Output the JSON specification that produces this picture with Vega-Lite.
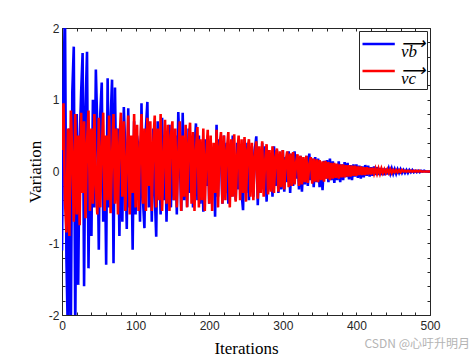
{
  "$schema": "https://vega.github.io/schema/vega-lite/v6.json",
  "autosize": {"type": "none"},
  "width": 368,
  "height": 287,
  "padding": {"left": 62, "top": 28, "right": 44, "bottom": 41},
  "background": "white",
  "config": {
    "view": {"stroke": null},
    "axis": {
      "domainColor": "#262626",
      "domainWidth": 1,
      "tickColor": "#262626",
      "grid": false,
      "labelFont": "Liberation Sans",
      "labelFontSize": 12,
      "labelColor": "#262626",
      "titleFont": "Liberation Serif",
      "titleFontSize": 17,
      "titleFontWeight": "normal",
      "titleColor": "#000000"
    }
  },
  "title": {
    "text": "CSDN @心吁升明月",
    "orient": "bottom",
    "anchor": "end",
    "font": "Noto Sans CJK SC",
    "fontSize": 12,
    "fontWeight": "normal",
    "color": "#b4b4b4",
    "offset": -17,
    "dx": 30
  },
  "data": {
    "values": [
      {"it":0,"vb":-1.10,"vc":0.30},{"it":2,"vb":1.15,"vc":0.95},{"it":4,"vb":2.30,"vc":-0.40},{"it":6,"vb":-1.20,"vc":-0.85},{"it":8,"vb":-2.30,"vc":0.60},
      {"it":10,"vb":0.60,"vc":-0.90},{"it":12,"vb":-2.25,"vc":0.85},{"it":14,"vb":1.10,"vc":0.20},{"it":16,"vb":1.74,"vc":-0.70},{"it":18,"vb":-2.20,"vc":0.80},
      {"it":20,"vb":0.80,"vc":-0.60},{"it":22,"vb":-1.58,"vc":0.50},{"it":24,"vb":0.40,"vc":-0.75},{"it":26,"vb":1.10,"vc":0.82},{"it":28,"vb":1.65,"vc":-0.30},
      {"it":30,"vb":-1.60,"vc":0.70},{"it":32,"vb":0.90,"vc":-0.65},{"it":34,"vb":1.67,"vc":0.40},{"it":36,"vb":-1.35,"vc":0.85},{"it":38,"vb":0.50,"vc":-0.55},
      {"it":40,"vb":-0.90,"vc":0.60},{"it":42,"vb":1.00,"vc":-0.45},{"it":44,"vb":-0.50,"vc":0.80},{"it":46,"vb":1.42,"vc":-0.20},{"it":48,"vb":0.60,"vc":-0.60},
      {"it":50,"vb":-1.09,"vc":0.75},{"it":52,"vb":0.80,"vc":-0.50},{"it":54,"vb":1.24,"vc":0.30},{"it":56,"vb":-0.70,"vc":0.82},{"it":58,"vb":0.40,"vc":-0.55},
      {"it":60,"vb":-1.30,"vc":0.50},{"it":62,"vb":1.30,"vc":-0.40},{"it":64,"vb":-0.50,"vc":0.78},{"it":66,"vb":0.70,"vc":-0.58},{"it":68,"vb":1.28,"vc":0.20},
      {"it":70,"vb":-1.28,"vc":0.80},{"it":72,"vb":1.17,"vc":-0.45},{"it":74,"vb":-0.40,"vc":0.60},{"it":76,"vb":0.60,"vc":-0.60},{"it":78,"vb":-0.90,"vc":0.40},
      {"it":80,"vb":0.50,"vc":0.82},{"it":82,"vb":-0.70,"vc":-0.35},{"it":84,"vb":0.90,"vc":0.70},{"it":86,"vb":0.30,"vc":-0.55},{"it":88,"vb":-0.80,"vc":0.10},
      {"it":90,"vb":0.88,"vc":0.78},{"it":92,"vb":-0.50,"vc":-0.60},{"it":94,"vb":0.40,"vc":0.50},{"it":96,"vb":-1.09,"vc":-0.30},{"it":98,"vb":0.70,"vc":0.80},
      {"it":100,"vb":-0.60,"vc":-0.50},{"it":102,"vb":0.50,"vc":0.65},{"it":104,"vb":0.30,"vc":-0.55},{"it":106,"vb":-0.70,"vc":0.30},{"it":108,"vb":0.95,"vc":0.80},
      {"it":110,"vb":-0.40,"vc":-0.45},{"it":112,"vb":-0.79,"vc":0.60},{"it":114,"vb":0.60,"vc":-0.55},{"it":116,"vb":0.97,"vc":0.75},{"it":118,"vb":-0.50,"vc":-0.20},
      {"it":120,"vb":0.40,"vc":0.70},{"it":122,"vb":-0.70,"vc":-0.55},{"it":124,"vb":0.60,"vc":0.40},{"it":126,"vb":-0.30,"vc":0.78},{"it":128,"vb":-0.91,"vc":-0.50},
      {"it":130,"vb":0.70,"vc":0.60},{"it":132,"vb":0.20,"vc":-0.40},{"it":134,"vb":-0.60,"vc":0.80},{"it":136,"vb":0.75,"vc":-0.55},{"it":138,"vb":-0.40,"vc":0.20},
      {"it":140,"vb":0.50,"vc":0.72},{"it":142,"vb":-0.70,"vc":-0.45},{"it":144,"vb":0.30,"vc":0.65},{"it":146,"vb":0.65,"vc":-0.55},{"it":148,"vb":-0.50,"vc":0.50},
      {"it":150,"vb":0.60,"vc":0.70},{"it":152,"vb":-0.40,"vc":-0.40},{"it":154,"vb":0.50,"vc":0.60},{"it":156,"vb":-0.60,"vc":-0.50},{"it":158,"vb":0.83,"vc":0.25},
      {"it":160,"vb":0.20,"vc":0.70},{"it":162,"vb":-0.55,"vc":-0.55},{"it":164,"vb":0.82,"vc":0.50},{"it":166,"vb":-0.40,"vc":-0.35},{"it":168,"vb":0.40,"vc":0.65},
      {"it":170,"vb":-0.49,"vc":-0.50},{"it":172,"vb":0.60,"vc":0.40},{"it":174,"vb":-0.30,"vc":0.68},{"it":176,"vb":0.45,"vc":-0.45},{"it":178,"vb":-0.50,"vc":0.55},
      {"it":180,"vb":0.30,"vc":-0.55},{"it":182,"vb":0.67,"vc":0.30},{"it":184,"vb":-0.40,"vc":0.62},{"it":186,"vb":0.50,"vc":-0.50},{"it":188,"vb":-0.45,"vc":0.45},
      {"it":190,"vb":0.35,"vc":-0.40},{"it":192,"vb":-0.56,"vc":0.60},{"it":194,"vb":0.45,"vc":-0.55},{"it":196,"vb":-0.20,"vc":0.20},{"it":198,"vb":0.50,"vc":0.58},
      {"it":200,"vb":-0.45,"vc":-0.45},{"it":202,"vb":0.40,"vc":0.50},{"it":204,"vb":-0.30,"vc":-0.55},{"it":206,"vb":0.30,"vc":0.40},{"it":208,"vb":-0.63,"vc":-0.30},
      {"it":210,"vb":0.65,"vc":0.58},{"it":212,"vb":-0.35,"vc":-0.50},{"it":214,"vb":0.45,"vc":0.35},{"it":216,"vb":0.20,"vc":0.55},{"it":218,"vb":-0.45,"vc":-0.45},
      {"it":220,"vb":0.50,"vc":0.50},{"it":222,"vb":-0.30,"vc":-0.40},{"it":224,"vb":0.40,"vc":0.30},{"it":226,"vb":-0.45,"vc":0.55},{"it":228,"vb":0.35,"vc":-0.50},
      {"it":230,"vb":-0.35,"vc":0.45},{"it":232,"vb":0.50,"vc":-0.35},{"it":234,"vb":0.10,"vc":0.52},{"it":236,"vb":-0.40,"vc":-0.42},{"it":238,"vb":0.40,"vc":0.20},
      {"it":240,"vb":-0.25,"vc":0.50},{"it":242,"vb":0.35,"vc":-0.40},{"it":244,"vb":-0.30,"vc":0.45},{"it":246,"vb":-0.54,"vc":-0.30},{"it":248,"vb":0.45,"vc":0.48},
      {"it":250,"vb":-0.30,"vc":-0.42},{"it":252,"vb":0.40,"vc":0.30},{"it":254,"vb":-0.40,"vc":0.45},{"it":256,"vb":0.20,"vc":-0.35},{"it":258,"vb":0.35,"vc":0.40},
      {"it":260,"vb":-0.35,"vc":-0.40},{"it":262,"vb":0.30,"vc":0.20},{"it":264,"vb":0.49,"vc":0.42},{"it":266,"vb":-0.47,"vc":-0.38},{"it":268,"vb":0.20,"vc":0.35},
      {"it":270,"vb":-0.30,"vc":-0.30},{"it":272,"vb":0.40,"vc":0.42},{"it":274,"vb":-0.20,"vc":-0.35},{"it":276,"vb":0.35,"vc":0.15},{"it":278,"vb":-0.42,"vc":0.38},
      {"it":280,"vb":0.30,"vc":-0.32},{"it":282,"vb":-0.25,"vc":0.30},{"it":284,"vb":0.20,"vc":-0.28},{"it":286,"vb":-0.35,"vc":0.35},{"it":288,"vb":0.35,"vc":-0.30},
      {"it":290,"vb":-0.20,"vc":0.20},{"it":292,"vb":0.30,"vc":0.32},{"it":294,"vb":-0.30,"vc":-0.28},{"it":296,"vb":0.15,"vc":0.28},{"it":298,"vb":-0.25,"vc":-0.22},
      {"it":300,"vb":0.30,"vc":0.30},{"it":302,"vb":-0.28,"vc":-0.25},{"it":304,"vb":0.20,"vc":0.15},{"it":306,"vb":-0.15,"vc":0.28},{"it":308,"vb":0.28,"vc":-0.22},
      {"it":310,"vb":-0.30,"vc":0.25},{"it":312,"vb":0.25,"vc":-0.20},{"it":314,"vb":-0.20,"vc":0.27},{"it":316,"vb":0.28,"vc":-0.18},{"it":318,"vb":-0.10,"vc":0.12},
      {"it":320,"vb":0.20,"vc":0.24},{"it":322,"vb":-0.25,"vc":-0.20},{"it":324,"vb":0.22,"vc":0.22},{"it":326,"vb":-0.28,"vc":-0.18},{"it":328,"vb":0.15,"vc":0.20},
      {"it":330,"vb":-0.18,"vc":-0.15},{"it":332,"vb":0.22,"vc":0.22},{"it":334,"vb":-0.20,"vc":-0.16},{"it":336,"vb":0.25,"vc":0.10},{"it":338,"vb":-0.12,"vc":0.20},
      {"it":340,"vb":0.18,"vc":-0.17},{"it":342,"vb":-0.22,"vc":0.18},{"it":344,"vb":0.20,"vc":-0.14},{"it":346,"vb":-0.15,"vc":0.17},{"it":348,"vb":0.18,"vc":-0.15},
      {"it":350,"vb":-0.22,"vc":0.16},{"it":352,"vb":0.10,"vc":-0.12},{"it":354,"vb":-0.26,"vc":0.14},{"it":356,"vb":0.15,"vc":-0.14},{"it":358,"vb":-0.10,"vc":0.15},
      {"it":360,"vb":0.16,"vc":-0.10},{"it":362,"vb":-0.15,"vc":0.13},{"it":364,"vb":0.18,"vc":-0.12},{"it":366,"vb":-0.12,"vc":0.12},{"it":368,"vb":0.14,"vc":-0.10},
      {"it":370,"vb":-0.16,"vc":0.12},{"it":372,"vb":0.10,"vc":-0.09},{"it":374,"vb":-0.12,"vc":0.11},{"it":376,"vb":0.14,"vc":-0.10},{"it":378,"vb":-0.15,"vc":0.10},
      {"it":380,"vb":0.10,"vc":-0.08},{"it":382,"vb":-0.12,"vc":0.10},{"it":384,"vb":0.13,"vc":-0.08},{"it":386,"vb":-0.08,"vc":0.09},{"it":388,"vb":0.12,"vc":-0.07},
      {"it":390,"vb":-0.11,"vc":0.09},{"it":392,"vb":0.09,"vc":-0.07},{"it":394,"vb":-0.12,"vc":0.08},{"it":396,"vb":0.10,"vc":-0.06},{"it":398,"vb":-0.07,"vc":0.08},
      {"it":400,"vb":0.10,"vc":-0.06},{"it":402,"vb":-0.09,"vc":0.07},{"it":404,"vb":0.08,"vc":-0.05},{"it":406,"vb":-0.10,"vc":0.07},{"it":408,"vb":0.07,"vc":-0.05},
      {"it":410,"vb":-0.08,"vc":0.06},{"it":412,"vb":0.09,"vc":-0.05},{"it":414,"vb":-0.06,"vc":0.06},{"it":416,"vb":0.08,"vc":-0.04},{"it":418,"vb":-0.07,"vc":0.05},
      {"it":420,"vb":0.06,"vc":-0.04},{"it":422,"vb":-0.06,"vc":0.05},{"it":424,"vb":0.07,"vc":-0.03},{"it":426,"vb":-0.05,"vc":0.04},{"it":428,"vb":0.06,"vc":-0.03},
      {"it":430,"vb":-0.05,"vc":0.04},{"it":432,"vb":0.05,"vc":-0.03},{"it":434,"vb":-0.05,"vc":0.04},{"it":436,"vb":0.04,"vc":-0.02},{"it":438,"vb":-0.05,"vc":0.03},
      {"it":440,"vb":0.04,"vc":-0.02},{"it":442,"vb":-0.04,"vc":0.03},{"it":444,"vb":0.04,"vc":-0.02},{"it":446,"vb":-0.03,"vc":0.03},{"it":448,"vb":0.04,"vc":-0.02},
      {"it":450,"vb":-0.03,"vc":0.02},{"it":452,"vb":0.03,"vc":-0.01},{"it":454,"vb":-0.03,"vc":0.02},{"it":456,"vb":0.03,"vc":-0.01},{"it":458,"vb":-0.02,"vc":0.02},
      {"it":460,"vb":0.03,"vc":-0.01},{"it":462,"vb":-0.02,"vc":0.02},{"it":464,"vb":0.02,"vc":0.00},{"it":466,"vb":-0.02,"vc":0.01},{"it":468,"vb":0.02,"vc":0.00},
      {"it":470,"vb":-0.02,"vc":0.01},{"it":472,"vb":0.02,"vc":0.00},{"it":474,"vb":-0.01,"vc":0.01},{"it":476,"vb":0.02,"vc":0.00},{"it":478,"vb":-0.01,"vc":0.01},
      {"it":480,"vb":0.01,"vc":0.00},{"it":482,"vb":-0.01,"vc":0.01},{"it":484,"vb":0.01,"vc":0.00},{"it":486,"vb":-0.01,"vc":0.01},{"it":488,"vb":0.01,"vc":0.00},
      {"it":490,"vb":0.00,"vc":0.00},{"it":492,"vb":0.01,"vc":0.00},{"it":494,"vb":0.00,"vc":0.00},{"it":496,"vb":0.00,"vc":0.00},{"it":498,"vb":0.00,"vc":0.00},
      {"it":500,"vb":0.00,"vc":0.00}
    ]
  },
  "transform": [{"fold": ["vb", "vc"], "as": ["series", "value"]}],
  "layer": [
    {
      "mark": {"type": "line", "strokeWidth": 2.6, "clip": true},
      "encoding": {
        "x": {
          "field": "it", "type": "quantitative",
          "scale": {"domain": [0, 500], "nice": false},
          "axis": {
            "orient": "bottom",
            "title": "Iterations",
            "values": [0,20,40,60,80,100,120,140,160,180,200,220,240,260,280,300,320,340,360,380,400,420,440,460,480,500],
            "labelExpr": "datum.value % 100 == 0 ? datum.label : ''",
            "labelOverlap": false,
            "tickSize": -3,
            "labelPadding": 8,
            "labelFlush": false,
            "titlePadding": 9
          }
        },
        "y": {
          "field": "value", "type": "quantitative",
          "scale": {"domain": [-2, 2], "nice": false},
          "axis": {
            "orient": "left",
            "title": "Variation",
            "values": [-2,-1.8,-1.6,-1.4,-1.2,-1,-0.8,-0.6,-0.4,-0.2,0,0.2,0.4,0.6,0.8,1,1.2,1.4,1.6,1.8,2],
            "labelExpr": "abs(datum.value - round(datum.value)) < 0.001 ? toString(round(datum.value)) : ''",
            "labelOverlap": false,
            "tickSize": -3,
            "labelPadding": 6,
            "labelFlush": false,
            "titlePadding": 4
          }
        },
        "color": {
          "field": "series", "type": "nominal",
          "scale": {"domain": ["vb", "vc"], "range": ["#0000ff", "#ff0000"]},
          "legend": {
            "orient": "top-right",
            "offset": 3,
            "title": null,
            "strokeColor": "#262626",
            "fillColor": "white",
            "padding": 2,
            "symbolType": "M-1,0H2.4",
            "symbolStrokeWidth": 2.6,
            "symbolSize": 361,
            "labelOffset": 18,
            "labelFont": "Liberation Serif",
            "labelFontStyle": "italic",
            "labelFontSize": 17,
            "labelColor": "#000000",
            "labelExpr": "datum.value == 'vb' ? ['⟶', 'vb'] : ['⟶', 'vc']",
            "rowPadding": -20,
            "encode": {"labels": {"enter": {"lineHeight": {"value": 8}}, "update": {"lineHeight": {"value": 8}}}}
          }
        }
      }
    },
    {
      "mark": {"type": "line", "opacity": 0},
      "encoding": {
        "x": {
          "field": "it", "type": "quantitative",
          "axis": {
            "orient": "top", "title": null, "labels": false,
            "values": [0,20,40,60,80,100,120,140,160,180,200,220,240,260,280,300,320,340,360,380,400,420,440,460,480,500],
            "tickSize": -3
          }
        },
        "y": {
          "field": "value", "type": "quantitative",
          "axis": {
            "orient": "right", "title": null, "labels": false,
            "values": [-2,-1.8,-1.6,-1.4,-1.2,-1,-0.8,-0.6,-0.4,-0.2,0,0.2,0.4,0.6,0.8,1,1.2,1.4,1.6,1.8,2],
            "tickSize": -3
          }
        },
        "detail": {"field": "series"}
      }
    }
  ],
  "resolve": {"axis": {"x": "independent", "y": "independent"}}
}
